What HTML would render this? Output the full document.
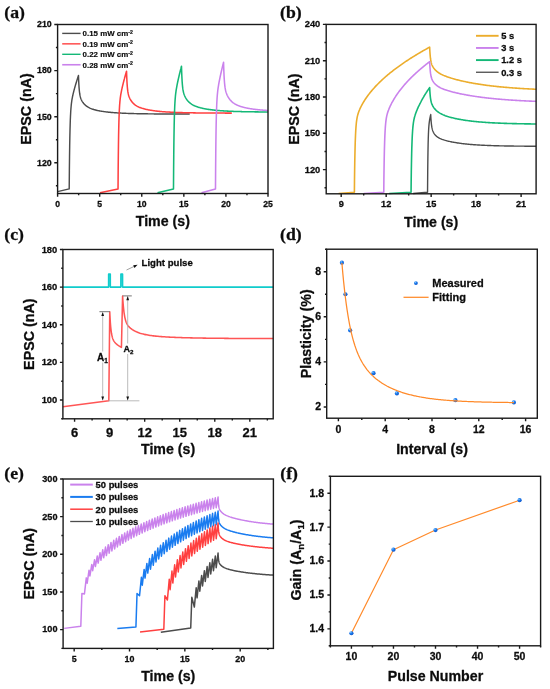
<!DOCTYPE html>
<html lang="en">
<head>
<meta charset="utf-8">
<title>EPSC figure</title>
<style>
html,body{margin:0;padding:0;background:#fff;}
body{width:550px;height:689px;overflow:hidden;}
svg{display:block;}
text{stroke:#0c0c0c;stroke-width:.28px;stroke-linejoin:round;}
text.sm{stroke-width:.16px;}
</style>
</head>
<body>
<svg width="550" height="689" viewBox="0 0 550 689" font-family='"Liberation Sans", Arial, sans-serif' font-weight="bold" fill="#0c0c0c">
<polyline points="57.6,191.66 69.21,188.89 69.37,170.79 69.53,157.05 69.68,146.17 69.84,137.49 70,130.51 70.16,124.87 70.31,120.28 70.47,116.51 70.63,113.39 70.78,110.78 70.94,108.58 71.1,106.69 71.25,105.06 71.41,103.63 71.57,102.37 71.72,101.23 71.88,100.19 72.04,99.24 72.2,98.35 72.35,97.52 72.51,96.73 72.67,95.98 72.82,95.26 72.98,94.56 73.14,93.89 73.29,93.23 73.45,92.59 73.61,91.96 73.76,91.34 73.92,90.74 74.08,90.14 74.24,89.55 74.39,88.97 74.55,88.4 74.71,87.83 74.86,87.27 75.02,86.71 75.18,86.16 75.33,85.62 75.49,85.07 75.65,84.54 75.8,84.01 75.96,83.48 76.12,82.96 76.27,82.44 76.43,81.92 76.59,81.41 76.75,80.9 76.9,80.39 77.06,79.89 77.22,79.39 77.37,78.9 77.53,78.4 77.69,77.91 77.84,77.43 78,76.94 78.16,76.46 78.31,75.98 78.47,75.51 78.58,78.39 78.68,80.9 78.79,83.08 78.9,84.98 79,86.64 79.11,88.1 79.22,89.39 79.32,90.52 79.43,91.53 79.54,92.42 79.64,93.22 79.75,93.94 79.86,94.58 79.96,95.17 80.07,95.7 80.18,96.18 80.28,96.63 80.39,97.04 80.5,97.42 80.6,97.77 80.71,98.1 80.82,98.41 80.92,98.71 81.03,98.98 81.13,99.25 81.24,99.5 81.35,99.73 81.45,99.96 81.56,100.18 81.67,100.39 81.77,100.6 81.88,100.79 81.99,100.99 82.09,101.17 82.2,101.35 82.31,101.52 82.41,101.69 82.52,101.86 82.63,102.02 82.73,102.18 82.84,102.33 82.95,102.48 83.05,102.63 83.16,102.77 83.27,102.91 83.37,103.05 83.48,103.18 83.59,103.32 83.69,103.44 83.8,103.57 83.9,103.69 84.01,103.82 84.12,103.94 84.22,104.05 84.33,104.17 84.44,104.28 84.54,104.39 84.65,104.5 84.76,104.61 84.86,104.71 84.97,104.81 85.08,104.91 85.18,105.01 85.29,105.11 85.4,105.21 85.5,105.3 85.61,105.39 85.72,105.48 85.82,105.57 85.93,105.66 86.04,105.75 86.14,105.83 86.25,105.91 86.36,106 86.46,106.08 86.57,106.15 86.67,106.23 86.78,106.31 86.89,106.38 87.75,106.95 88.62,107.46 89.48,107.9 90.34,108.3 91.21,108.66 92.07,108.99 92.94,109.28 93.8,109.55 94.67,109.8 95.53,110.03 96.39,110.24 97.26,110.44 98.12,110.63 98.99,110.8 99.85,110.96 100.72,111.11 101.58,111.25 102.44,111.39 103.31,111.52 104.17,111.64 105.04,111.75 105.9,111.86 106.76,111.96 107.63,112.06 108.49,112.16 109.36,112.24 110.22,112.33 111.09,112.41 111.95,112.49 112.81,112.56 113.68,112.63 114.54,112.69 115.41,112.76 116.27,112.82 117.14,112.87 118,112.93 118.86,112.98 119.73,113.03 120.59,113.08 121.46,113.12 122.32,113.17 123.19,113.21 124.05,113.25 124.91,113.29 125.78,113.32 126.64,113.36 127.51,113.39 128.37,113.42 129.24,113.45 130.1,113.48 130.96,113.5 131.83,113.53 132.69,113.55 133.56,113.58 134.42,113.6 135.28,113.62 136.15,113.64 137.01,113.66 137.88,113.68 138.74,113.7 139.61,113.72 140.47,113.73 141.33,113.75 142.2,113.76 143.06,113.78 143.93,113.79 144.79,113.8 145.66,113.81 146.52,113.83 147.38,113.84 148.25,113.85 149.11,113.86 149.98,113.87 150.84,113.88 151.71,113.89 152.57,113.89 153.43,113.9 154.3,113.91 155.16,113.92 156.03,113.92 156.89,113.93 157.75,113.94 158.62,113.94 159.48,113.95 160.35,113.95 161.21,113.96 162.08,113.96 162.94,113.97 163.8,113.97 164.67,113.98 165.53,113.98 166.4,113.99 167.26,113.99 168.13,113.99 168.99,114 169.85,114 170.72,114 171.58,114.01 172.45,114.01 173.31,114.01 174.18,114.02 175.04,114.02 175.9,114.02 176.77,114.02 177.63,114.02 178.5,114.03 179.36,114.03 180.22,114.03 181.09,114.03 181.95,114.03 182.82,114.04 183.68,114.04 184.55,114.04 185.41,114.04 186.27,114.04 187.14,114.04 188,114.04 188.87,114.05 189.73,114.05" fill="none" stroke="#4c4c4c" stroke-width="1.45" stroke-linejoin="round" />
<polyline points="100.02,192.73 118.03,188.89 118.17,170.05 118.32,155.75 118.46,144.43 118.6,135.39 118.75,128.13 118.89,122.26 119.04,117.48 119.18,113.56 119.32,110.32 119.47,107.61 119.61,105.32 119.76,103.37 119.9,101.68 120.04,100.2 120.19,98.89 120.33,97.71 120.48,96.64 120.62,95.66 120.76,94.74 120.91,93.88 121.05,93.07 121.2,92.29 121.34,91.55 121.48,90.83 121.63,90.14 121.77,89.46 121.92,88.8 122.06,88.15 122.2,87.52 122.35,86.89 122.49,86.28 122.64,85.67 122.78,85.07 122.93,84.48 123.07,83.9 123.21,83.32 123.36,82.74 123.5,82.18 123.65,81.62 123.79,81.06 123.93,80.51 124.08,79.96 124.22,79.41 124.37,78.88 124.51,78.34 124.65,77.81 124.8,77.28 124.94,76.76 125.09,76.24 125.23,75.72 125.37,75.21 125.52,74.7 125.66,74.19 125.81,73.68 125.95,73.18 126.09,72.68 126.24,72.19 126.38,71.7 126.53,71.21 126.63,74.34 126.74,77.07 126.85,79.44 126.95,81.51 127.06,83.32 127.17,84.9 127.27,86.3 127.38,87.54 127.49,88.63 127.59,89.6 127.7,90.47 127.81,91.25 127.91,91.95 128.02,92.59 128.13,93.16 128.23,93.69 128.34,94.18 128.44,94.62 128.55,95.04 128.66,95.42 128.76,95.78 128.87,96.12 128.98,96.44 129.08,96.74 129.19,97.02 129.3,97.3 129.4,97.56 129.51,97.8 129.62,98.04 129.72,98.27 129.83,98.5 129.94,98.71 130.04,98.92 130.15,99.12 130.26,99.31 130.36,99.5 130.47,99.69 130.58,99.87 130.68,100.04 130.79,100.21 130.89,100.38 131,100.54 131.11,100.7 131.21,100.86 131.32,101.01 131.43,101.16 131.53,101.31 131.64,101.45 131.75,101.59 131.85,101.73 131.96,101.86 132.07,102 132.17,102.13 132.28,102.25 132.39,102.38 132.49,102.5 132.6,102.62 132.71,102.74 132.81,102.85 132.92,102.97 133.03,103.08 133.13,103.19 133.24,103.3 133.35,103.4 133.45,103.51 133.56,103.61 133.66,103.71 133.77,103.81 133.88,103.9 133.98,104 134.09,104.09 134.2,104.19 134.3,104.28 134.41,104.37 134.52,104.45 134.62,104.54 134.73,104.62 134.84,104.71 134.94,104.79 135.76,105.38 136.57,105.9 137.39,106.36 138.2,106.78 139.01,107.16 139.83,107.5 140.64,107.82 141.46,108.1 142.27,108.37 143.08,108.61 143.9,108.84 144.71,109.05 145.53,109.25 146.34,109.44 147.15,109.61 147.97,109.78 148.78,109.93 149.6,110.08 150.41,110.22 151.22,110.35 152.04,110.48 152.85,110.59 153.67,110.71 154.48,110.81 155.29,110.92 156.11,111.02 156.92,111.11 157.74,111.2 158.55,111.28 159.36,111.36 160.18,111.44 160.99,111.51 161.81,111.59 162.62,111.65 163.43,111.72 164.25,111.78 165.06,111.84 165.88,111.9 166.69,111.95 167.5,112 168.32,112.05 169.13,112.1 169.95,112.14 170.76,112.19 171.57,112.23 172.39,112.27 173.2,112.31 174.02,112.34 174.83,112.38 175.64,112.41 176.46,112.44 177.27,112.47 178.09,112.5 178.9,112.53 179.71,112.56 180.53,112.58 181.34,112.61 182.16,112.63 182.97,112.65 183.78,112.67 184.6,112.69 185.41,112.71 186.23,112.73 187.04,112.75 187.85,112.77 188.67,112.78 189.48,112.8 190.3,112.81 191.11,112.83 191.92,112.84 192.74,112.85 193.55,112.87 194.37,112.88 195.18,112.89 195.99,112.9 196.81,112.91 197.62,112.92 198.44,112.93 199.25,112.94 200.06,112.95 200.88,112.96 201.69,112.97 202.51,112.98 203.32,112.98 204.13,112.99 204.95,113 205.76,113 206.58,113.01 207.39,113.02 208.2,113.02 209.02,113.03 209.83,113.03 210.65,113.04 211.46,113.04 212.27,113.05 213.09,113.05 213.9,113.05 214.72,113.06 215.53,113.06 216.34,113.07 217.16,113.07 217.97,113.07 218.79,113.08 219.6,113.08 220.41,113.08 221.23,113.09 222.04,113.09 222.86,113.09 223.67,113.09 224.49,113.1 225.3,113.1 226.11,113.1 226.93,113.1 227.74,113.1 228.56,113.11 229.37,113.11 230.18,113.11 231,113.11 231.81,113.11" fill="none" stroke="#ff4040" stroke-width="1.55" stroke-linejoin="round" />
<polyline points="157.5,192.73 173.49,188.89 173.62,169.28 173.76,154.38 173.89,142.6 174.03,133.19 174.17,125.63 174.3,119.51 174.44,114.54 174.57,110.46 174.71,107.08 174.84,104.26 174.98,101.88 175.11,99.84 175.25,98.08 175.39,96.54 175.52,95.17 175.66,93.95 175.79,92.83 175.93,91.8 176.06,90.85 176.2,89.95 176.33,89.1 176.47,88.29 176.61,87.52 176.74,86.77 176.88,86.04 177.01,85.34 177.15,84.65 177.28,83.97 177.42,83.31 177.55,82.66 177.69,82.01 177.82,81.38 177.96,80.76 178.1,80.14 178.23,79.53 178.37,78.93 178.5,78.33 178.64,77.74 178.77,77.15 178.91,76.57 179.04,75.99 179.18,75.42 179.32,74.86 179.45,74.29 179.59,73.73 179.72,73.18 179.86,72.63 179.99,72.08 180.13,71.54 180.26,71 180.4,70.46 180.53,69.93 180.67,69.4 180.81,68.88 180.94,68.35 181.08,67.83 181.21,67.31 181.35,66.8 181.48,66.29 181.59,69.71 181.7,72.69 181.8,75.28 181.91,77.53 182.02,79.51 182.12,81.24 182.23,82.77 182.34,84.11 182.44,85.31 182.55,86.37 182.66,87.32 182.76,88.17 182.87,88.93 182.97,89.63 183.08,90.26 183.19,90.83 183.29,91.36 183.4,91.85 183.51,92.3 183.61,92.72 183.72,93.12 183.83,93.48 183.93,93.83 184.04,94.16 184.15,94.47 184.25,94.77 184.36,95.05 184.47,95.32 184.57,95.58 184.68,95.84 184.79,96.08 184.89,96.31 185,96.54 185.11,96.76 185.21,96.97 185.32,97.18 185.43,97.38 185.53,97.58 185.64,97.77 185.74,97.95 185.85,98.14 185.96,98.31 186.06,98.49 186.17,98.66 186.28,98.83 186.38,98.99 186.49,99.15 186.6,99.3 186.7,99.46 186.81,99.61 186.92,99.75 187.02,99.9 187.13,100.04 187.24,100.18 187.34,100.32 187.45,100.45 187.56,100.58 187.66,100.71 187.77,100.84 187.88,100.96 187.98,101.08 188.09,101.2 188.2,101.32 188.3,101.43 188.41,101.55 188.51,101.66 188.62,101.77 188.73,101.88 188.83,101.98 188.94,102.09 189.05,102.19 189.15,102.29 189.26,102.39 189.37,102.49 189.47,102.58 189.58,102.68 189.69,102.77 189.79,102.86 189.9,102.95 190.56,103.47 191.21,103.94 191.87,104.38 192.52,104.77 193.18,105.14 193.84,105.47 194.49,105.78 195.15,106.07 195.81,106.34 196.46,106.59 197.12,106.82 197.78,107.04 198.43,107.25 199.09,107.44 199.74,107.62 200.4,107.8 201.06,107.96 201.71,108.12 202.37,108.27 203.03,108.41 203.68,108.55 204.34,108.68 204.99,108.81 205.65,108.93 206.31,109.04 206.96,109.15 207.62,109.26 208.28,109.36 208.93,109.45 209.59,109.55 210.25,109.64 210.9,109.72 211.56,109.81 212.21,109.89 212.87,109.96 213.53,110.04 214.18,110.11 214.84,110.18 215.5,110.25 216.15,110.31 216.81,110.37 217.46,110.43 218.12,110.49 218.78,110.54 219.43,110.6 220.09,110.65 220.75,110.7 221.4,110.75 222.06,110.79 222.71,110.84 223.37,110.88 224.03,110.92 224.68,110.96 225.34,111 226,111.04 226.65,111.07 227.31,111.11 227.97,111.14 228.62,111.18 229.28,111.21 229.93,111.24 230.59,111.27 231.25,111.29 231.9,111.32 232.56,111.35 233.22,111.37 233.87,111.4 234.53,111.42 235.18,111.44 235.84,111.47 236.5,111.49 237.15,111.51 237.81,111.53 238.47,111.55 239.12,111.56 239.78,111.58 240.44,111.6 241.09,111.62 241.75,111.63 242.4,111.65 243.06,111.66 243.72,111.68 244.37,111.69 245.03,111.7 245.69,111.72 246.34,111.73 247,111.74 247.65,111.75 248.31,111.76 248.97,111.77 249.62,111.78 250.28,111.79 250.94,111.8 251.59,111.81 252.25,111.82 252.9,111.83 253.56,111.84 254.22,111.85 254.87,111.86 255.53,111.86 256.19,111.87 256.84,111.88 257.5,111.88 258.16,111.89 258.81,111.9 259.47,111.9 260.12,111.91 260.78,111.91 261.44,111.92 262.09,111.93 262.75,111.93 263.41,111.94 264.06,111.94 264.72,111.95 265.37,111.95 266.03,111.95 266.69,111.96 267.34,111.96 268,111.97" fill="none" stroke="#14b877" stroke-width="1.55" stroke-linejoin="round" />
<polyline points="201.51,192.73 215.48,188.89 215.62,168.79 215.76,153.55 215.89,141.48 216.03,131.84 216.17,124.09 216.31,117.82 216.44,112.71 216.58,108.51 216.72,105.03 216.85,102.13 216.99,99.66 217.13,97.56 217.26,95.73 217.4,94.13 217.54,92.71 217.68,91.43 217.81,90.26 217.95,89.19 218.09,88.19 218.22,87.25 218.36,86.36 218.5,85.51 218.63,84.69 218.77,83.9 218.91,83.14 219.04,82.39 219.18,81.67 219.32,80.96 219.46,80.26 219.59,79.57 219.73,78.89 219.87,78.22 220,77.57 220.14,76.91 220.28,76.27 220.41,75.63 220.55,75 220.69,74.38 220.82,73.76 220.96,73.15 221.1,72.54 221.24,71.94 221.37,71.34 221.51,70.74 221.65,70.15 221.78,69.57 221.92,68.99 222.06,68.41 222.19,67.84 222.33,67.27 222.47,66.7 222.6,66.14 222.74,65.58 222.88,65.02 223.02,64.47 223.15,63.92 223.29,63.38 223.43,62.83 223.56,62.29 223.67,65.98 223.78,69.19 223.88,71.97 223.99,74.41 224.1,76.54 224.2,78.4 224.31,80.05 224.42,81.5 224.52,82.78 224.63,83.93 224.74,84.95 224.84,85.86 224.95,86.69 225.05,87.43 225.16,88.11 225.27,88.73 225.37,89.3 225.48,89.83 225.59,90.32 225.69,90.77 225.8,91.19 225.91,91.59 226.01,91.96 226.12,92.32 226.23,92.65 226.33,92.97 226.44,93.28 226.55,93.57 226.65,93.85 226.76,94.12 226.87,94.38 226.97,94.63 227.08,94.88 227.19,95.11 227.29,95.34 227.4,95.57 227.51,95.78 227.61,96 227.72,96.2 227.82,96.4 227.93,96.6 228.04,96.79 228.14,96.98 228.25,97.16 228.36,97.34 228.46,97.52 228.57,97.69 228.68,97.86 228.78,98.02 228.89,98.18 229,98.34 229.1,98.5 229.21,98.65 229.32,98.8 229.42,98.95 229.53,99.09 229.64,99.23 229.74,99.37 229.85,99.51 229.96,99.64 230.06,99.77 230.17,99.9 230.28,100.03 230.38,100.15 230.49,100.27 230.59,100.39 230.7,100.51 230.81,100.63 230.91,100.74 231.02,100.85 231.13,100.97 231.23,101.07 231.34,101.18 231.45,101.28 231.55,101.39 231.66,101.49 231.77,101.59 231.87,101.69 231.98,101.78 232.28,102.05 232.58,102.3 232.89,102.55 233.19,102.78 233.49,103 233.8,103.22 234.1,103.42 234.4,103.62 234.7,103.81 235.01,103.99 235.31,104.17 235.61,104.34 235.91,104.5 236.22,104.66 236.52,104.81 236.82,104.95 237.13,105.1 237.43,105.23 237.73,105.37 238.03,105.49 238.34,105.62 238.64,105.74 238.94,105.86 239.24,105.97 239.55,106.08 239.85,106.19 240.15,106.29 240.45,106.39 240.76,106.49 241.06,106.59 241.36,106.68 241.67,106.77 241.97,106.86 242.27,106.95 242.57,107.03 242.88,107.12 243.18,107.2 243.48,107.28 243.78,107.35 244.09,107.43 244.39,107.5 244.69,107.58 245,107.65 245.3,107.72 245.6,107.78 245.9,107.85 246.21,107.91 246.51,107.98 246.81,108.04 247.11,108.1 247.42,108.16 247.72,108.22 248.02,108.28 248.32,108.33 248.63,108.39 248.93,108.44 249.23,108.5 249.54,108.55 249.84,108.6 250.14,108.65 250.44,108.7 250.75,108.75 251.05,108.8 251.35,108.84 251.65,108.89 251.96,108.93 252.26,108.98 252.56,109.02 252.87,109.06 253.17,109.11 253.47,109.15 253.77,109.19 254.08,109.23 254.38,109.27 254.68,109.31 254.98,109.34 255.29,109.38 255.59,109.42 255.89,109.45 256.19,109.49 256.5,109.52 256.8,109.56 257.1,109.59 257.41,109.62 257.71,109.66 258.01,109.69 258.31,109.72 258.62,109.75 258.92,109.78 259.22,109.81 259.52,109.84 259.83,109.87 260.13,109.9 260.43,109.93 260.74,109.95 261.04,109.98 261.34,110.01 261.64,110.03 261.95,110.06 262.25,110.08 262.55,110.11 262.85,110.13 263.16,110.16 263.46,110.18 263.76,110.2 264.06,110.23 264.37,110.25 264.67,110.27 264.97,110.29 265.28,110.32 265.58,110.34 265.88,110.36 266.18,110.38 266.49,110.4 266.79,110.42 267.09,110.44 267.39,110.46 267.7,110.47 268,110.49" fill="none" stroke="#ca82ec" stroke-width="1.55" stroke-linejoin="round" />
<path d="M57.6 193.5v3.3M99.68 193.5v3.3M141.76 193.5v3.3M183.84 193.5v3.3M225.92 193.5v3.3M268 193.5v3.3M78.64 193.5v1.7M120.72 193.5v1.7M162.8 193.5v1.7M204.88 193.5v1.7M246.96 193.5v1.7M57.6 162.77h-3.3M57.6 116.68h-3.3M57.6 70.59h-3.3M57.6 24.5h-3.3M57.6 185.82h-1.7M57.6 139.73h-1.7M57.6 93.64h-1.7M57.6 47.55h-1.7" stroke="#1a1a1a" stroke-width="1.4" fill="none"/>
<rect x="57.6" y="24.5" width="210.4" height="169" fill="none" stroke="#1a1a1a" stroke-width="1.4"/>
<text x="57.6" y="206.9" font-size="8.6" text-anchor="middle">0</text>
<text x="99.68" y="206.9" font-size="8.6" text-anchor="middle">5</text>
<text x="141.76" y="206.9" font-size="8.6" text-anchor="middle">10</text>
<text x="183.84" y="206.9" font-size="8.6" text-anchor="middle">15</text>
<text x="225.92" y="206.9" font-size="8.6" text-anchor="middle">20</text>
<text x="268" y="206.9" font-size="8.6" text-anchor="middle">25</text>
<text x="51.7" y="165.59" font-size="8.8" text-anchor="end">120</text>
<text x="51.7" y="119.5" font-size="8.8" text-anchor="end">150</text>
<text x="51.7" y="73.41" font-size="8.8" text-anchor="end">180</text>
<text x="51.7" y="27.32" font-size="8.8" text-anchor="end">210</text>
<text x="162.8" y="226.3" font-size="14.2" text-anchor="middle">Time (s)</text>
<text transform="translate(31.2 109) rotate(-90)" font-size="14.3" text-anchor="middle">EPSC (nA)</text>
<line x1="62.2" y1="33.4" x2="80.6" y2="33.4" stroke="#4c4c4c" stroke-width="1.4"/>
<text x="82.6" y="36.2" font-size="7.9" text-anchor="start" class="sm">0.15 mW cm<tspan font-size="5.2" dy="-2.6">-2</tspan></text>
<line x1="62.2" y1="43.85" x2="80.6" y2="43.85" stroke="#ff4040" stroke-width="1.4"/>
<text x="82.6" y="46.65" font-size="7.9" text-anchor="start" class="sm">0.19 mW cm<tspan font-size="5.2" dy="-2.6">-2</tspan></text>
<line x1="62.2" y1="54.3" x2="80.6" y2="54.3" stroke="#14b877" stroke-width="1.4"/>
<text x="82.6" y="57.1" font-size="7.9" text-anchor="start" class="sm">0.22 mW cm<tspan font-size="5.2" dy="-2.6">-2</tspan></text>
<line x1="62.2" y1="64.75" x2="80.6" y2="64.75" stroke="#ca82ec" stroke-width="1.6"/>
<text x="82.6" y="67.55" font-size="7.9" text-anchor="start" class="sm">0.28 mW cm<tspan font-size="5.2" dy="-2.6">-2</tspan></text>
<text x="4.3" y="18.3" font-size="17.7" font-family='"Liberation Serif", "Times New Roman", serif'>(a)</text>
<polyline points="338.64,193.44 354.39,192.23 354.51,179.26 354.63,170.23 354.75,162.72 354.88,156.35 355,150.92 355.12,146.27 355.24,142.26 355.37,138.79 355.49,135.79 355.61,133.18 355.73,130.91 355.86,128.91 355.98,127.16 356.1,125.61 356.22,124.24 356.34,123.02 356.47,121.93 356.59,120.95 356.71,120.06 356.83,119.25 356.96,118.52 357.08,117.84 357.2,117.21 357.32,116.63 357.45,116.09 357.57,115.59 357.69,115.11 357.81,114.66 357.94,114.23 358.06,113.81 358.18,113.42 358.3,113.04 358.43,112.68 358.55,112.33 358.67,111.99 358.79,111.66 358.92,111.33 359.04,111.02 359.16,110.71 359.28,110.41 359.4,110.11 359.53,109.83 359.65,109.54 359.77,109.26 359.89,108.99 360.02,108.72 360.14,108.45 360.26,108.18 360.38,107.92 361.08,106.5 361.78,105.15 362.48,103.88 363.18,102.66 363.88,101.49 364.58,100.37 365.28,99.29 365.98,98.24 366.68,97.23 367.38,96.25 368.08,95.29 368.78,94.36 369.48,93.46 370.18,92.57 370.88,91.71 371.58,90.87 372.28,90.04 372.98,89.23 373.68,88.44 374.38,87.66 375.08,86.9 375.78,86.15 376.48,85.41 377.18,84.68 377.88,83.97 378.58,83.27 379.27,82.58 379.97,81.9 380.67,81.22 381.37,80.56 382.07,79.91 382.77,79.27 383.47,78.63 384.17,78 384.87,77.38 385.57,76.77 386.27,76.16 386.97,75.57 387.67,74.97 388.37,74.39 389.07,73.81 389.77,73.24 390.47,72.67 391.17,72.11 391.87,71.56 392.57,71.01 393.27,70.46 393.97,69.92 394.67,69.39 395.37,68.86 396.07,68.34 396.77,67.82 397.47,67.3 398.17,66.79 398.87,66.28 399.57,65.78 400.26,65.28 400.96,64.79 401.66,64.3 402.36,63.81 403.06,63.33 403.76,62.85 404.46,62.37 405.16,61.9 405.86,61.43 406.56,60.97 407.26,60.51 407.96,60.05 408.66,59.59 409.36,59.14 410.06,58.69 410.76,58.24 411.46,57.8 412.16,57.36 412.86,56.92 413.56,56.49 414.26,56.06 414.96,55.63 415.66,55.2 416.36,54.77 417.06,54.35 417.76,53.93 418.46,53.52 419.16,53.1 419.86,52.69 420.56,52.28 421.25,51.87 421.95,51.47 422.65,51.06 423.35,50.66 424.05,50.26 424.75,49.87 425.45,49.47 426.15,49.08 426.85,48.69 427.55,48.3 428.25,47.92 428.95,47.53 429.65,47.15 429.76,49.45 429.88,51.44 429.99,53.16 430.11,54.65 430.22,55.96 430.33,57.1 430.45,58.1 430.56,58.99 430.68,59.77 430.79,60.47 430.9,61.1 431.02,61.67 431.13,62.18 431.24,62.64 431.36,63.07 431.47,63.46 431.59,63.82 431.7,64.16 431.81,64.47 431.93,64.77 432.04,65.04 432.16,65.31 432.27,65.56 432.38,65.8 432.5,66.02 432.61,66.24 432.73,66.45 432.84,66.66 432.95,66.85 433.07,67.04 433.18,67.23 433.29,67.4 433.41,67.58 433.52,67.75 433.64,67.91 433.75,68.07 433.86,68.23 433.98,68.38 434.09,68.53 434.21,68.68 434.32,68.82 434.43,68.96 434.55,69.1 434.66,69.24 434.77,69.37 434.89,69.5 435,69.63 435.12,69.75 435.23,69.87 435.34,69.99 435.46,70.11 435.57,70.23 435.69,70.34 435.8,70.45 435.91,70.57 436.03,70.67 436.14,70.78 436.26,70.89 436.37,70.99 436.48,71.09 436.6,71.19 436.71,71.29 436.82,71.39 436.94,71.48 437.05,71.57 437.17,71.67 437.28,71.76 437.39,71.85 437.51,71.94 437.62,72.02 437.74,72.11 437.85,72.19 437.96,72.28 438.08,72.36 438.19,72.44 438.3,72.52 438.42,72.6 438.53,72.68 438.65,72.76 439.47,73.28 440.28,73.76 441.1,74.21 441.92,74.62 442.74,75.01 443.56,75.38 444.38,75.72 445.2,76.05 446.02,76.36 446.84,76.67 447.65,76.96 448.47,77.24 449.29,77.51 450.11,77.77 450.93,78.03 451.75,78.27 452.57,78.52 453.39,78.75 454.21,78.98 455.03,79.21 455.84,79.43 456.66,79.65 457.48,79.86 458.3,80.07 459.12,80.27 459.94,80.47 460.76,80.66 461.58,80.86 462.4,81.04 463.21,81.23 464.03,81.41 464.85,81.59 465.67,81.76 466.49,81.93 467.31,82.1 468.13,82.27 468.95,82.43 469.77,82.59 470.58,82.74 471.4,82.9 472.22,83.05 473.04,83.19 473.86,83.34 474.68,83.48 475.5,83.62 476.32,83.76 477.14,83.89 477.96,84.03 478.77,84.16 479.59,84.28 480.41,84.41 481.23,84.53 482.05,84.65 482.87,84.77 483.69,84.89 484.51,85 485.33,85.12 486.14,85.23 486.96,85.34 487.78,85.44 488.6,85.55 489.42,85.65 490.24,85.75 491.06,85.85 491.88,85.95 492.7,86.04 493.52,86.13 494.33,86.23 495.15,86.32 495.97,86.41 496.79,86.49 497.61,86.58 498.43,86.66 499.25,86.75 500.07,86.83 500.89,86.91 501.7,86.98 502.52,87.06 503.34,87.14 504.16,87.21 504.98,87.28 505.8,87.35 506.62,87.42 507.44,87.49 508.26,87.56 509.08,87.63 509.89,87.69 510.71,87.76 511.53,87.82 512.35,87.88 513.17,87.94 513.99,88 514.81,88.06 515.63,88.12 516.45,88.17 517.26,88.23 518.08,88.28 518.9,88.33 519.72,88.39 520.54,88.44 521.36,88.49 522.18,88.54 523,88.59 523.82,88.63 524.63,88.68 525.45,88.73 526.27,88.77 527.09,88.82 527.91,88.86 528.73,88.9 529.55,88.95 530.37,88.99 531.19,89.03 532.01,89.07 532.82,89.11 533.64,89.14 534.46,89.18 535.28,89.22 536.1,89.26" fill="none" stroke="#ecad2c" stroke-width="1.6" stroke-linejoin="round" />
<polyline points="363.68,193.44 383.77,192.23 383.89,179.3 384.02,170.24 384.14,162.7 384.26,156.31 384.38,150.85 384.51,146.17 384.63,142.14 384.75,138.65 384.87,135.63 385,133 385.12,130.7 385.24,128.68 385.36,126.91 385.49,125.35 385.61,123.96 385.73,122.72 385.85,121.6 385.98,120.6 386.1,119.7 386.22,118.87 386.34,118.12 386.47,117.42 386.59,116.78 386.71,116.18 386.83,115.63 386.95,115.1 387.08,114.61 387.2,114.14 387.32,113.69 387.44,113.27 387.57,112.86 387.69,112.46 387.81,112.08 387.93,111.72 388.06,111.36 388.18,111.01 388.3,110.68 388.42,110.35 388.55,110.03 388.67,109.71 388.79,109.4 388.91,109.1 389.04,108.8 389.16,108.51 389.28,108.22 389.4,107.93 389.52,107.65 389.65,107.37 389.77,107.1 390.17,106.22 390.58,105.38 390.98,104.56 391.38,103.76 391.78,102.99 392.19,102.24 392.59,101.51 392.99,100.79 393.4,100.09 393.8,99.41 394.2,98.74 394.6,98.08 395.01,97.44 395.41,96.8 395.81,96.18 396.22,95.57 396.62,94.97 397.02,94.38 397.42,93.8 397.83,93.23 398.23,92.66 398.63,92.11 399.03,91.56 399.44,91.02 399.84,90.49 400.24,89.96 400.65,89.44 401.05,88.93 401.45,88.42 401.85,87.92 402.26,87.42 402.66,86.93 403.06,86.45 403.47,85.97 403.87,85.5 404.27,85.03 404.67,84.56 405.08,84.1 405.48,83.65 405.88,83.2 406.29,82.75 406.69,82.31 407.09,81.87 407.49,81.44 407.9,81.01 408.3,80.58 408.7,80.15 409.11,79.73 409.51,79.32 409.91,78.91 410.31,78.5 410.72,78.09 411.12,77.69 411.52,77.29 411.93,76.89 412.33,76.49 412.73,76.1 413.13,75.71 413.54,75.33 413.94,74.95 414.34,74.56 414.75,74.19 415.15,73.81 415.55,73.44 415.95,73.07 416.36,72.7 416.76,72.33 417.16,71.97 417.57,71.61 417.97,71.25 418.37,70.89 418.77,70.54 419.18,70.19 419.58,69.84 419.98,69.49 420.39,69.14 420.79,68.8 421.19,68.46 421.59,68.12 422,67.78 422.4,67.44 422.8,67.11 423.21,66.77 423.61,66.44 424.01,66.11 424.41,65.78 424.82,65.46 425.22,65.13 425.62,64.81 426.03,64.49 426.43,64.17 426.83,63.85 427.23,63.54 427.64,63.22 428.04,62.91 428.44,62.6 428.85,62.28 429.25,61.98 429.65,61.67 429.76,63.96 429.88,65.94 429.99,67.66 430.11,69.15 430.22,70.45 430.33,71.58 430.45,72.58 430.56,73.46 430.68,74.23 430.79,74.93 430.9,75.55 431.02,76.11 431.13,76.61 431.24,77.07 431.36,77.49 431.47,77.87 431.59,78.23 431.7,78.56 431.81,78.87 431.93,79.15 432.04,79.43 432.16,79.68 432.27,79.93 432.38,80.16 432.5,80.38 432.61,80.59 432.73,80.8 432.84,80.99 432.95,81.18 433.07,81.37 433.18,81.54 433.29,81.72 433.41,81.88 433.52,82.05 433.64,82.21 433.75,82.36 433.86,82.51 433.98,82.66 434.09,82.8 434.21,82.94 434.32,83.08 434.43,83.21 434.55,83.35 434.66,83.47 434.77,83.6 434.89,83.72 435,83.85 435.12,83.97 435.23,84.08 435.34,84.2 435.46,84.31 435.57,84.42 435.69,84.53 435.8,84.63 435.91,84.74 436.03,84.84 436.14,84.94 436.26,85.04 436.37,85.14 436.48,85.23 436.6,85.33 436.71,85.42 436.82,85.51 436.94,85.6 437.05,85.69 437.17,85.78 437.28,85.86 437.39,85.95 437.51,86.03 437.62,86.11 437.74,86.19 437.85,86.27 437.96,86.35 438.08,86.42 438.19,86.5 438.3,86.57 438.42,86.65 438.53,86.72 438.65,86.79 439.47,87.28 440.28,87.72 441.1,88.13 441.92,88.5 442.74,88.86 443.56,89.19 444.38,89.5 445.2,89.79 446.02,90.07 446.84,90.34 447.65,90.6 448.47,90.84 449.29,91.08 450.11,91.31 450.93,91.54 451.75,91.76 452.57,91.97 453.39,92.18 454.21,92.38 455.03,92.58 455.84,92.77 456.66,92.96 457.48,93.15 458.3,93.33 459.12,93.51 459.94,93.68 460.76,93.85 461.58,94.02 462.4,94.18 463.21,94.34 464.03,94.5 464.85,94.66 465.67,94.81 466.49,94.96 467.31,95.11 468.13,95.25 468.95,95.39 469.77,95.53 470.58,95.67 471.4,95.8 472.22,95.93 473.04,96.06 473.86,96.19 474.68,96.31 475.5,96.44 476.32,96.56 477.14,96.67 477.96,96.79 478.77,96.9 479.59,97.01 480.41,97.12 481.23,97.23 482.05,97.34 482.87,97.44 483.69,97.54 484.51,97.64 485.33,97.74 486.14,97.84 486.96,97.93 487.78,98.02 488.6,98.12 489.42,98.21 490.24,98.29 491.06,98.38 491.88,98.46 492.7,98.55 493.52,98.63 494.33,98.71 495.15,98.79 495.97,98.87 496.79,98.94 497.61,99.02 498.43,99.09 499.25,99.16 500.07,99.23 500.89,99.3 501.7,99.37 502.52,99.44 503.34,99.5 504.16,99.57 504.98,99.63 505.8,99.69 506.62,99.76 507.44,99.82 508.26,99.87 509.08,99.93 509.89,99.99 510.71,100.05 511.53,100.1 512.35,100.15 513.17,100.21 513.99,100.26 514.81,100.31 515.63,100.36 516.45,100.41 517.26,100.46 518.08,100.5 518.9,100.55 519.72,100.6 520.54,100.64 521.36,100.69 522.18,100.73 523,100.77 523.82,100.81 524.63,100.85 525.45,100.89 526.27,100.93 527.09,100.97 527.91,101.01 528.73,101.05 529.55,101.09 530.37,101.12 531.19,101.16 532.01,101.19 532.82,101.23 533.64,101.26 534.46,101.29 535.28,101.32 536.1,101.36" fill="none" stroke="#ca82ec" stroke-width="1.6" stroke-linejoin="round" />
<polyline points="389.17,193.44 411.06,192.23 411.18,180.68 411.3,172.04 411.43,164.78 411.55,158.61 411.67,153.33 411.79,148.79 411.92,144.88 412.04,141.49 412.16,138.54 412.28,135.98 412.41,133.73 412.53,131.76 412.65,130.03 412.77,128.49 412.9,127.12 413.02,125.9 413.14,124.8 413.26,123.81 413.38,122.91 413.51,122.09 413.63,121.33 413.75,120.64 413.87,119.99 414,119.39 414.12,118.82 414.24,118.29 414.36,117.78 414.49,117.3 414.61,116.85 414.73,116.41 414.85,115.98 414.98,115.58 415.1,115.18 415.22,114.8 415.34,114.43 415.47,114.06 415.59,113.71 415.71,113.36 415.83,113.02 415.96,112.68 416.08,112.36 416.2,112.03 416.32,111.71 416.44,111.4 416.57,111.09 416.69,110.79 416.81,110.48 416.93,110.19 417.06,109.89 417.18,109.59 417.31,109.29 417.44,108.99 417.57,108.7 417.69,108.41 417.82,108.12 417.95,107.83 418.07,107.55 418.2,107.27 418.33,106.99 418.46,106.72 418.58,106.44 418.71,106.17 418.84,105.9 418.96,105.63 419.09,105.37 419.22,105.1 419.35,104.84 419.47,104.58 419.6,104.32 419.73,104.07 419.86,103.81 419.98,103.56 420.11,103.31 420.24,103.06 420.36,102.81 420.49,102.56 420.62,102.32 420.75,102.07 420.87,101.83 421,101.59 421.13,101.35 421.25,101.11 421.38,100.88 421.51,100.64 421.64,100.41 421.76,100.17 421.89,99.94 422.02,99.71 422.15,99.48 422.27,99.25 422.4,99.03 422.53,98.8 422.65,98.58 422.78,98.35 422.91,98.13 423.04,97.91 423.16,97.69 423.29,97.47 423.42,97.25 423.54,97.03 423.67,96.82 423.8,96.6 423.93,96.39 424.05,96.17 424.18,95.96 424.31,95.75 424.44,95.54 424.56,95.33 424.69,95.12 424.82,94.91 424.94,94.71 425.07,94.5 425.2,94.29 425.33,94.09 425.45,93.89 425.58,93.68 425.71,93.48 425.83,93.28 425.96,93.08 426.09,92.88 426.22,92.68 426.34,92.48 426.47,92.28 426.6,92.09 426.72,91.89 426.85,91.7 426.98,91.5 427.11,91.31 427.23,91.11 427.36,90.92 427.49,90.73 427.62,90.54 427.74,90.35 427.87,90.16 428,89.97 428.12,89.78 428.25,89.59 428.38,89.4 428.51,89.22 428.63,89.03 428.76,88.84 428.89,88.66 429.01,88.48 429.14,88.29 429.27,88.11 429.4,87.93 429.52,87.74 429.65,87.56 429.76,89.69 429.88,91.52 429.99,93.12 430.11,94.51 430.22,95.73 430.33,96.8 430.45,97.74 430.56,98.58 430.68,99.32 430.79,99.99 430.9,100.59 431.02,101.13 431.13,101.63 431.24,102.08 431.36,102.5 431.47,102.88 431.59,103.24 431.7,103.57 431.81,103.88 431.93,104.18 432.04,104.46 432.16,104.72 432.27,104.97 432.38,105.22 432.5,105.45 432.61,105.67 432.73,105.88 432.84,106.09 432.95,106.29 433.07,106.49 433.18,106.67 433.29,106.86 433.41,107.04 433.52,107.21 433.64,107.38 433.75,107.55 433.86,107.71 433.98,107.87 434.09,108.02 434.21,108.17 434.32,108.32 434.43,108.47 434.55,108.61 434.66,108.75 434.77,108.88 434.89,109.02 435,109.15 435.12,109.28 435.23,109.41 435.34,109.53 435.46,109.65 435.57,109.77 435.69,109.89 435.8,110.01 435.91,110.12 436.03,110.23 436.14,110.34 436.26,110.45 436.37,110.56 436.48,110.66 436.6,110.76 436.71,110.86 436.82,110.96 436.94,111.06 437.05,111.16 437.17,111.25 437.28,111.35 437.39,111.44 437.51,111.53 437.62,111.62 437.74,111.71 437.85,111.79 437.96,111.88 438.08,111.96 438.19,112.05 438.3,112.13 438.42,112.21 438.53,112.29 438.65,112.37 439.47,112.9 440.28,113.39 441.1,113.83 441.92,114.24 442.74,114.63 443.56,114.98 444.38,115.31 445.2,115.63 446.02,115.92 446.84,116.2 447.65,116.47 448.47,116.72 449.29,116.97 450.11,117.2 450.93,117.42 451.75,117.64 452.57,117.84 453.39,118.04 454.21,118.23 455.03,118.42 455.84,118.6 456.66,118.77 457.48,118.94 458.3,119.1 459.12,119.25 459.94,119.4 460.76,119.55 461.58,119.69 462.4,119.83 463.21,119.96 464.03,120.09 464.85,120.22 465.67,120.34 466.49,120.46 467.31,120.57 468.13,120.68 468.95,120.79 469.77,120.89 470.58,121 471.4,121.09 472.22,121.19 473.04,121.28 473.86,121.37 474.68,121.46 475.5,121.54 476.32,121.62 477.14,121.7 477.96,121.78 478.77,121.85 479.59,121.93 480.41,122 481.23,122.06 482.05,122.13 482.87,122.19 483.69,122.26 484.51,122.32 485.33,122.37 486.14,122.43 486.96,122.49 487.78,122.54 488.6,122.59 489.42,122.64 490.24,122.69 491.06,122.74 491.88,122.78 492.7,122.83 493.52,122.87 494.33,122.91 495.15,122.95 495.97,122.99 496.79,123.03 497.61,123.07 498.43,123.1 499.25,123.14 500.07,123.17 500.89,123.21 501.7,123.24 502.52,123.27 503.34,123.3 504.16,123.33 504.98,123.36 505.8,123.38 506.62,123.41 507.44,123.44 508.26,123.46 509.08,123.49 509.89,123.51 510.71,123.53 511.53,123.55 512.35,123.58 513.17,123.6 513.99,123.62 514.81,123.64 515.63,123.65 516.45,123.67 517.26,123.69 518.08,123.71 518.9,123.73 519.72,123.74 520.54,123.76 521.36,123.77 522.18,123.79 523,123.8 523.82,123.82 524.63,123.83 525.45,123.84 526.27,123.86 527.09,123.87 527.91,123.88 528.73,123.89 529.55,123.9 530.37,123.91 531.19,123.93 532.01,123.94 532.82,123.95 533.64,123.96 534.46,123.96 535.28,123.97 536.1,123.98" fill="none" stroke="#14b877" stroke-width="1.6" stroke-linejoin="round" />
<polyline points="413.16,193.44 427.55,192.23 427.63,181.1 427.71,172.11 427.79,164.58 427.87,158.23 427.96,152.87 428.04,148.31 428.12,144.44 428.2,141.13 428.28,138.3 428.36,135.86 428.44,133.75 428.52,131.92 428.6,130.32 428.68,128.92 428.76,127.68 428.84,126.58 428.92,125.6 429,124.71 429.09,123.91 429.17,123.18 429.25,122.5 429.33,121.87 429.41,121.29 429.49,120.74 429.57,120.22 429.65,119.73 429.73,119.26 429.81,118.81 429.89,118.38 429.97,117.96 430.05,117.56 430.14,117.16 430.22,116.77 430.3,116.39 430.38,116.02 430.46,115.66 430.54,115.3 430.62,114.95 430.7,114.55 430.81,116.65 430.93,118.49 431.04,120.08 431.16,121.48 431.27,122.71 431.38,123.79 431.5,124.74 431.61,125.59 431.73,126.35 431.84,127.03 431.95,127.65 432.07,128.2 432.18,128.71 432.29,129.17 432.41,129.59 432.52,129.99 432.64,130.35 432.75,130.69 432.86,131 432.98,131.3 433.09,131.57 433.21,131.84 433.32,132.08 433.43,132.32 433.55,132.54 433.66,132.76 433.77,132.96 433.89,133.16 434,133.35 434.12,133.53 434.23,133.71 434.34,133.87 434.46,134.04 434.57,134.2 434.69,134.35 434.8,134.5 434.91,134.64 435.03,134.78 435.14,134.91 435.26,135.04 435.37,135.17 435.48,135.29 435.6,135.41 435.71,135.53 435.82,135.65 435.94,135.76 436.05,135.87 436.17,135.97 436.28,136.08 436.39,136.18 436.51,136.27 436.62,136.37 436.74,136.46 436.85,136.56 436.96,136.65 437.08,136.73 437.19,136.82 437.3,136.9 437.42,136.99 437.53,137.07 437.65,137.15 437.76,137.22 437.87,137.3 437.99,137.37 438.1,137.45 438.22,137.52 438.33,137.59 438.44,137.66 438.56,137.72 438.67,137.79 438.78,137.85 438.9,137.92 439.01,137.98 439.13,138.04 439.24,138.1 439.35,138.16 439.47,138.22 439.58,138.28 439.7,138.34 440.51,138.72 441.32,139.06 442.13,139.38 442.94,139.67 443.75,139.94 444.56,140.19 445.37,140.43 446.18,140.65 446.99,140.86 447.8,141.06 448.61,141.26 449.42,141.44 450.23,141.62 451.04,141.79 451.85,141.95 452.66,142.11 453.47,142.26 454.28,142.41 455.09,142.55 455.9,142.68 456.71,142.81 457.52,142.94 458.33,143.06 459.14,143.18 459.95,143.29 460.76,143.4 461.57,143.5 462.38,143.6 463.19,143.7 464,143.79 464.81,143.88 465.62,143.97 466.43,144.06 467.24,144.14 468.05,144.22 468.86,144.29 469.67,144.36 470.48,144.43 471.29,144.5 472.1,144.57 472.91,144.63 473.72,144.69 474.53,144.75 475.34,144.81 476.15,144.86 476.96,144.91 477.77,144.97 478.58,145.01 479.39,145.06 480.2,145.11 481.01,145.15 481.82,145.19 482.63,145.23 483.44,145.27 484.25,145.31 485.06,145.35 485.87,145.38 486.68,145.42 487.49,145.45 488.3,145.48 489.11,145.51 489.92,145.54 490.73,145.57 491.54,145.6 492.35,145.63 493.16,145.65 493.97,145.68 494.78,145.7 495.59,145.72 496.4,145.75 497.21,145.77 498.02,145.79 498.83,145.81 499.64,145.83 500.45,145.85 501.26,145.86 502.08,145.88 502.89,145.9 503.7,145.91 504.51,145.93 505.32,145.94 506.13,145.96 506.94,145.97 507.75,145.99 508.56,146 509.37,146.01 510.18,146.02 510.99,146.03 511.8,146.05 512.61,146.06 513.42,146.07 514.23,146.08 515.04,146.09 515.85,146.1 516.66,146.1 517.47,146.11 518.28,146.12 519.09,146.13 519.9,146.14 520.71,146.15 521.52,146.15 522.33,146.16 523.14,146.17 523.95,146.17 524.76,146.18 525.57,146.19 526.38,146.19 527.19,146.2 528,146.2 528.81,146.21 529.62,146.21 530.43,146.22 531.24,146.22 532.05,146.23 532.86,146.23 533.67,146.24 534.48,146.24 535.29,146.24 536.1,146.25" fill="none" stroke="#4c4c4c" stroke-width="1.4" stroke-linejoin="round" />
<path d="M341.19 193.8v3.3M386.17 193.8v3.3M431.15 193.8v3.3M476.13 193.8v3.3M521.11 193.8v3.3M363.68 193.8v1.7M408.66 193.8v1.7M453.64 193.8v1.7M498.62 193.8v1.7M326.2 169.6h-3.3M326.2 133.3h-3.3M326.2 97h-3.3M326.2 60.7h-3.3M326.2 24.4h-3.3M326.2 187.75h-1.7M326.2 151.45h-1.7M326.2 115.15h-1.7M326.2 78.85h-1.7M326.2 42.55h-1.7" stroke="#1a1a1a" stroke-width="1.4" fill="none"/>
<rect x="326.2" y="24.4" width="209.9" height="169.4" fill="none" stroke="#1a1a1a" stroke-width="1.4"/>
<text x="341.19" y="207.2" font-size="9.2" text-anchor="middle">9</text>
<text x="386.17" y="207.2" font-size="9.2" text-anchor="middle">12</text>
<text x="431.15" y="207.2" font-size="9.2" text-anchor="middle">15</text>
<text x="476.13" y="207.2" font-size="9.2" text-anchor="middle">18</text>
<text x="521.11" y="207.2" font-size="9.2" text-anchor="middle">21</text>
<text x="320.3" y="172.58" font-size="9.3" text-anchor="end">120</text>
<text x="320.3" y="136.28" font-size="9.3" text-anchor="end">150</text>
<text x="320.3" y="99.98" font-size="9.3" text-anchor="end">180</text>
<text x="320.3" y="63.68" font-size="9.3" text-anchor="end">210</text>
<text x="320.3" y="27.38" font-size="9.3" text-anchor="end">240</text>
<text x="431.15" y="226.8" font-size="14.2" text-anchor="middle">Time (s)</text>
<text transform="translate(298.8 109.1) rotate(-90)" font-size="14.3" text-anchor="middle">EPSC (nA)</text>
<line x1="476" y1="35.8" x2="498.6" y2="35.8" stroke="#ecad2c" stroke-width="1.9"/>
<text x="501.2" y="39.1" font-size="9.3" text-anchor="start" >5 s</text>
<line x1="476" y1="47.95" x2="498.6" y2="47.95" stroke="#ca82ec" stroke-width="1.9"/>
<text x="501.2" y="51.25" font-size="9.3" text-anchor="start" >3 s</text>
<line x1="476" y1="60.1" x2="498.6" y2="60.1" stroke="#14b877" stroke-width="1.9"/>
<text x="501.2" y="63.4" font-size="9.3" text-anchor="start" >1.2 s</text>
<line x1="476" y1="72.25" x2="498.6" y2="72.25" stroke="#4c4c4c" stroke-width="1.3"/>
<text x="501.2" y="75.55" font-size="9.3" text-anchor="start" >0.3 s</text>
<text x="280" y="18.1" font-size="17.7" font-family='"Liberation Serif", "Times New Roman", serif'>(b)</text>
<polyline points="62.9,287.12 108.61,287.12 108.64,274.14 110.28,274.14 110.31,287.12 120.87,287.12 120.91,274.14 122.54,274.14 122.58,287.12 273.2,287.12" fill="none" stroke="#10cccc" stroke-width="1.6" stroke-linejoin="round" />
<polyline points="62.9,406.76 108.82,400.74 109.75,311.76 109.95,315.89 110.15,319.41 110.34,322.43 110.54,325.02 110.74,327.24 110.94,329.16 111.14,330.82 111.33,332.26 111.53,333.51 111.73,334.6 111.93,335.56 112.13,336.41 112.32,337.16 112.52,337.83 112.72,338.42 112.92,338.96 113.12,339.44 113.31,339.88 113.51,340.28 113.71,340.65 113.91,341 114.11,341.31 114.3,341.61 114.5,341.89 114.7,342.15 114.9,342.4 115.1,342.64 115.29,342.86 115.49,343.07 115.69,343.28 115.89,343.48 116.09,343.67 116.28,343.85 116.48,344.03 116.68,344.21 116.88,344.37 117.08,344.54 117.28,344.7 117.47,344.85 117.67,345 117.87,345.15 118.07,345.29 118.27,345.43 118.46,345.57 118.66,345.71 118.86,345.84 119.06,345.97 119.26,346.09 119.45,346.21 119.65,346.34 119.85,346.45 120.05,346.57 120.25,346.68 120.44,346.79 120.64,346.9 120.84,347.01 121.04,347.11 121.24,347.22 121.43,347.32 122.6,295.96 122.77,298.63 122.93,301.05 123.09,303.24 123.26,305.23 123.42,307.04 123.59,308.68 123.75,310.18 123.91,311.54 124.08,312.79 124.24,313.93 124.41,314.97 124.57,315.92 124.73,316.8 124.9,317.6 125.06,318.34 125.23,319.02 125.39,319.65 125.55,320.24 125.72,320.78 125.88,321.28 126.05,321.75 126.21,322.19 126.37,322.6 126.54,322.98 126.7,323.34 126.87,323.67 127.03,323.99 127.19,324.29 127.36,324.58 127.52,324.85 127.69,325.11 127.85,325.35 128.02,325.59 128.18,325.81 128.34,326.02 128.51,326.23 128.67,326.43 128.84,326.62 129,326.8 129.16,326.98 129.33,327.15 129.49,327.31 129.66,327.48 129.82,327.63 129.98,327.78 130.15,327.93 130.31,328.07 130.48,328.21 130.64,328.35 130.8,328.48 130.97,328.61 131.13,328.74 131.3,328.87 131.46,328.99 131.62,329.11 131.79,329.22 131.95,329.34 132.12,329.45 132.28,329.56 132.44,329.67 132.61,329.78 132.77,329.88 132.94,329.98 133.1,330.08 133.26,330.18 133.43,330.28 133.59,330.37 133.76,330.47 133.92,330.56 134.08,330.65 134.25,330.74 134.41,330.83 134.58,330.92 134.74,331 134.9,331.09 135.07,331.17 135.23,331.25 135.4,331.33 135.56,331.41 135.72,331.49 135.89,331.56 136.05,331.64 136.22,331.71 136.38,331.79 136.55,331.86 136.71,331.93 136.87,332 137.04,332.07 137.2,332.14 137.37,332.2 137.53,332.27 137.69,332.34 137.86,332.4 138.02,332.46 138.19,332.53 138.35,332.59 138.51,332.65 138.68,332.71 138.84,332.77 139.97,333.15 141.1,333.5 142.23,333.82 143.36,334.11 144.49,334.38 145.62,334.62 146.75,334.84 147.87,335.05 149,335.24 150.13,335.42 151.26,335.58 152.39,335.73 153.52,335.87 154.65,336 155.78,336.12 156.91,336.23 158.04,336.34 159.16,336.44 160.29,336.53 161.42,336.62 162.55,336.7 163.68,336.78 164.81,336.85 165.94,336.92 167.07,336.99 168.2,337.05 169.33,337.11 170.46,337.17 171.58,337.22 172.71,337.27 173.84,337.32 174.97,337.37 176.1,337.41 177.23,337.46 178.36,337.5 179.49,337.54 180.62,337.58 181.75,337.61 182.88,337.65 184,337.68 185.13,337.72 186.26,337.75 187.39,337.78 188.52,337.81 189.65,337.83 190.78,337.86 191.91,337.89 193.04,337.91 194.17,337.94 195.29,337.96 196.42,337.98 197.55,338.01 198.68,338.03 199.81,338.05 200.94,338.07 202.07,338.09 203.2,338.11 204.33,338.12 205.46,338.14 206.59,338.16 207.71,338.17 208.84,338.19 209.97,338.2 211.1,338.22 212.23,338.23 213.36,338.25 214.49,338.26 215.62,338.27 216.75,338.29 217.88,338.3 219.01,338.31 220.13,338.32 221.26,338.33 222.39,338.34 223.52,338.35 224.65,338.36 225.78,338.37 226.91,338.38 228.04,338.39 229.17,338.4 230.3,338.41 231.42,338.42 232.55,338.42 233.68,338.43 234.81,338.44 235.94,338.45 237.07,338.45 238.2,338.46 239.33,338.47 240.46,338.47 241.59,338.48 242.72,338.48 243.84,338.49 244.97,338.5 246.1,338.5 247.23,338.51 248.36,338.51 249.49,338.52 250.62,338.52 251.75,338.53 252.88,338.53 254.01,338.53 255.14,338.54 256.26,338.54 257.39,338.55 258.52,338.55 259.65,338.55 260.78,338.56 261.91,338.56 263.04,338.56 264.17,338.57 265.3,338.57 266.43,338.57 267.55,338.58 268.68,338.58 269.81,338.58 270.94,338.58 272.07,338.59 273.2,338.59" fill="none" stroke="#ff5555" stroke-width="1.55" stroke-linejoin="round" />
<g stroke="#444" stroke-width="0.8" fill="none">
<line x1="99.4" y1="311.7" x2="110" y2="311.7" stroke="#777" stroke-width="1"/>
<line x1="122.6" y1="295.9" x2="131.8" y2="295.9" stroke="#777" stroke-width="1"/>
<line x1="108.3" y1="400.8" x2="139.4" y2="400.8" stroke="#aaa"/>
<line x1="102.7" y1="313" x2="102.7" y2="399.5" stroke="#aaa" stroke-width="0.8"/>
<line x1="127.7" y1="297" x2="127.7" y2="399.5" stroke="#aaa" stroke-width="0.8"/>
<line x1="126.5" y1="270" x2="135" y2="266" stroke="#777" stroke-width="0.7"/>
</g>
<g fill="#111">
<path d="M102.7 311.9l-1.4 4.2h2.8z"/>
<path d="M102.7 400.6l-1.4 -4.2h2.8z"/>
<path d="M127.7 296.1l-1.4 4.2h2.8z"/>
<path d="M127.7 400.6l-1.4 -4.2h2.8z"/>
<path d="M137.6 264.8l-4.4 0.5l1.3 2.7z"/>
</g>
<rect x="97" y="351.5" width="10.5" height="11" fill="#fff"/>
<rect x="123.2" y="343.5" width="11" height="10.5" fill="#fff"/>
<text x="97" y="360.6" font-size="10" text-anchor="start" >A<tspan font-size="6.5" dy="2">1</tspan></text>
<text x="123.4" y="352.4" font-size="9" text-anchor="start" >A<tspan font-size="6.2" dy="1.2">2</tspan></text>
<text x="141.6" y="265.8" font-size="9.6" text-anchor="start" >Light pulse</text>
<path d="M74.58 418.8v3M109.63 418.8v3M144.68 418.8v3M179.73 418.8v3M214.78 418.8v3M249.83 418.8v3M92.11 418.8v1.7M127.16 418.8v1.7M162.21 418.8v1.7M197.26 418.8v1.7M232.31 418.8v1.7M267.36 418.8v1.7M62.9 399.99h-3M62.9 362.37h-3M62.9 324.74h-3M62.9 287.12h-3M62.9 249.5h-3M62.9 418.8h-1.7M62.9 381.18h-1.7M62.9 343.56h-1.7M62.9 305.93h-1.7M62.9 268.31h-1.7" stroke="#1a1a1a" stroke-width="1.4" fill="none"/>
<rect x="62.9" y="249.5" width="210.3" height="169.3" fill="none" stroke="#1a1a1a" stroke-width="1.4"/>
<text x="74.58" y="436.5" font-size="13" text-anchor="middle">6</text>
<text x="109.63" y="436.5" font-size="13" text-anchor="middle">9</text>
<text x="144.68" y="436.5" font-size="13" text-anchor="middle">12</text>
<text x="179.73" y="436.5" font-size="13" text-anchor="middle">15</text>
<text x="214.78" y="436.5" font-size="13" text-anchor="middle">18</text>
<text x="249.83" y="436.5" font-size="13" text-anchor="middle">21</text>
<text x="57.3" y="403" font-size="9.4" text-anchor="end">100</text>
<text x="57.3" y="365.37" font-size="9.4" text-anchor="end">120</text>
<text x="57.3" y="327.75" font-size="9.4" text-anchor="end">140</text>
<text x="57.3" y="290.13" font-size="9.4" text-anchor="end">160</text>
<text x="57.3" y="252.51" font-size="9.4" text-anchor="end">180</text>
<text x="168.05" y="454.3" font-size="14.2" text-anchor="middle">Time (s)</text>
<text transform="translate(34.1 334.15) rotate(-90)" font-size="14.3" text-anchor="middle">EPSC (nA)</text>
<text x="4.3" y="240.1" font-size="17.7" font-family='"Liberation Serif", "Times New Roman", serif'>(c)</text>
<defs><radialGradient id="ball" cx="0.35" cy="0.3" r="0.75"><stop offset="0" stop-color="#8fd0ff"/><stop offset="0.35" stop-color="#1e80f0"/><stop offset="1" stop-color="#0a50c8"/></radialGradient></defs>
<circle cx="341.91" cy="262.72" r="2.1" fill="url(#ball)"/>
<circle cx="345.42" cy="294.27" r="2.1" fill="url(#ball)"/>
<circle cx="350.1" cy="330.32" r="2.1" fill="url(#ball)"/>
<circle cx="373.5" cy="373.13" r="2.1" fill="url(#ball)"/>
<circle cx="396.9" cy="393.41" r="2.1" fill="url(#ball)"/>
<circle cx="455.4" cy="400.17" r="2.1" fill="url(#ball)"/>
<circle cx="513.9" cy="402.43" r="2.1" fill="url(#ball)"/>
<polyline points="341.91,262.97 342.77,272.87 343.64,281.82 344.5,289.91 345.37,297.24 346.23,303.89 347.1,309.93 347.96,315.43 348.82,320.44 349.69,325.01 350.55,329.2 351.42,333.03 352.28,336.55 353.15,339.8 354.01,342.78 354.87,345.55 355.74,348.1 356.6,350.48 357.47,352.68 358.33,354.74 359.2,356.66 360.06,358.46 360.92,360.14 361.79,361.72 362.65,363.22 363.52,364.62 364.38,365.95 365.25,367.21 366.11,368.4 366.97,369.54 367.84,370.62 368.7,371.65 369.57,372.63 370.43,373.57 371.3,374.46 372.16,375.33 373.02,376.15 373.89,376.95 374.75,377.71 375.62,378.44 376.48,379.15 377.35,379.83 378.21,380.49 379.07,381.12 379.94,381.74 380.8,382.33 381.67,382.9 382.53,383.46 383.4,384 384.26,384.52 385.12,385.02 385.99,385.51 386.85,385.99 387.72,386.45 388.58,386.89 389.44,387.33 390.31,387.75 391.17,388.16 392.04,388.55 392.9,388.94 393.77,389.31 394.63,389.68 395.49,390.03 396.36,390.38 397.22,390.71 398.09,391.04 398.95,391.35 399.82,391.66 400.68,391.96 401.54,392.25 402.41,392.54 403.27,392.81 404.14,393.08 405,393.34 405.87,393.59 406.73,393.84 407.59,394.08 408.46,394.31 409.32,394.54 410.19,394.76 411.05,394.98 411.92,395.19 412.78,395.39 413.64,395.59 414.51,395.79 415.37,395.97 416.24,396.16 417.1,396.34 417.97,396.51 418.83,396.68 419.69,396.84 420.56,397 421.42,397.16 422.29,397.31 423.15,397.46 424.02,397.6 424.88,397.74 425.74,397.88 426.61,398.01 427.47,398.14 428.34,398.26 429.2,398.39 430.07,398.51 430.93,398.62 431.79,398.73 432.66,398.84 433.52,398.95 434.39,399.06 435.25,399.16 436.12,399.26 436.98,399.35 437.84,399.44 438.71,399.54 439.57,399.62 440.44,399.71 441.3,399.79 442.17,399.88 443.03,399.96 443.89,400.03 444.76,400.11 445.62,400.18 446.49,400.25 447.35,400.32 448.22,400.39 449.08,400.46 449.94,400.52 450.81,400.58 451.67,400.64 452.54,400.7 453.4,400.76 454.27,400.82 455.13,400.87 455.99,400.92 456.86,400.98 457.72,401.03 458.59,401.08 459.45,401.12 460.32,401.17 461.18,401.22 462.04,401.26 462.91,401.3 463.77,401.34 464.64,401.38 465.5,401.42 466.37,401.46 467.23,401.5 468.09,401.54 468.96,401.57 469.82,401.61 470.69,401.64 471.55,401.67 472.41,401.71 473.28,401.74 474.14,401.77 475.01,401.8 475.87,401.82 476.74,401.85 477.6,401.88 478.46,401.91 479.33,401.93 480.19,401.96 481.06,401.98 481.92,402.01 482.79,402.03 483.65,402.05 484.51,402.07 485.38,402.09 486.24,402.11 487.11,402.13 487.97,402.15 488.84,402.17 489.7,402.19 490.56,402.21 491.43,402.23 492.29,402.25 493.16,402.26 494.02,402.28 494.89,402.29 495.75,402.31 496.61,402.32 497.48,402.34 498.34,402.35 499.21,402.37 500.07,402.38 500.94,402.39 501.8,402.41 502.66,402.42 503.53,402.43 504.39,402.44 505.26,402.46 506.12,402.47 506.99,402.48 507.85,402.49 508.71,402.5 509.58,402.51 510.44,402.52 511.31,402.53 512.17,402.54 513.04,402.55 513.9,402.55" fill="none" stroke="#ff8a2a" stroke-width="1.25" stroke-linejoin="round" />
<path d="M338.4 418.2v3M385.2 418.2v3M432 418.2v3M478.8 418.2v3M525.6 418.2v3M361.8 418.2v1.7M408.6 418.2v1.7M455.4 418.2v1.7M502.2 418.2v1.7M326.7 406.93h-3M326.7 361.87h-3M326.7 316.8h-3M326.7 271.73h-3M326.7 384.4h-1.7M326.7 339.33h-1.7M326.7 294.27h-1.7M326.7 249.2h-1.7" stroke="#1a1a1a" stroke-width="1.4" fill="none"/>
<rect x="326.7" y="249.2" width="210.6" height="169" fill="none" stroke="#1a1a1a" stroke-width="1.4"/>
<text x="338.4" y="432.6" font-size="10.5" text-anchor="middle">0</text>
<text x="385.2" y="432.6" font-size="10.5" text-anchor="middle">4</text>
<text x="432" y="432.6" font-size="10.5" text-anchor="middle">8</text>
<text x="478.8" y="432.6" font-size="10.5" text-anchor="middle">12</text>
<text x="525.6" y="432.6" font-size="10.5" text-anchor="middle">16</text>
<text x="321.1" y="410.29" font-size="10.5" text-anchor="end">2</text>
<text x="321.1" y="365.23" font-size="10.5" text-anchor="end">4</text>
<text x="321.1" y="320.16" font-size="10.5" text-anchor="end">6</text>
<text x="321.1" y="275.09" font-size="10.5" text-anchor="end">8</text>
<text x="432" y="453.6" font-size="14.2" text-anchor="middle">Interval (s)</text>
<text transform="translate(311 333.7) rotate(-90)" font-size="14.3" text-anchor="middle">Plasticity (%)</text>
<circle cx="415.9" cy="283.1" r="1.9" fill="url(#ball)"/>
<text x="432.3" y="287.3" font-size="11" text-anchor="start" >Measured</text>
<line x1="403.5" y1="297.3" x2="428.6" y2="297.3" stroke="#ff8a2a" stroke-width="1.25"/>
<text x="432.3" y="301.3" font-size="11" text-anchor="start" >Fitting</text>
<text x="280" y="240.3" font-size="17.7" font-family='"Liberation Serif", "Times New Roman", serif'>(d)</text>
<polyline points="64.21,628.37 80.81,626.34 81.91,593.51 84.43,593.96 86.3,577.87 87.18,583.23 89.04,570.19 89.92,575.99 91.79,564.43 92.67,570.66 94.53,559.83 95.41,566.51 97.28,556 98.16,563.13 100.02,552.69 100.9,560.27 102.77,549.75 103.65,557.78 105.51,547.09 106.39,555.58 108.26,544.65 109.14,553.18 111,542.39 111.88,550.95 113.75,540.28 114.63,548.88 116.49,538.29 117.37,546.92 119.24,536.4 120.12,545.08 121.98,534.62 122.86,543.33 124.73,532.91 125.61,541.66 127.47,531.29 128.35,540.07 130.22,529.72 131.1,538.54 132.96,528.22 133.84,537.08 135.71,526.78 136.59,535.67 138.45,525.39 139.33,534.31 141.2,524.04 142.08,533 143.94,522.73 144.82,531.73 146.69,521.47 147.57,530.5 149.43,520.24 150.31,529.31 152.18,519.05 153.06,528.16 154.92,517.89 155.8,527.03 157.67,516.76 158.55,525.94 160.41,515.66 161.29,524.87 163.16,514.58 164.04,523.83 165.9,513.53 166.78,522.82 168.65,512.51 169.53,521.83 171.39,511.51 172.27,520.87 174.14,510.52 175.02,519.92 176.88,509.56 177.76,519 179.63,508.62 180.51,518.09 182.37,507.7 183.25,517.2 185.12,506.79 186,516.34 187.86,505.91 188.74,515.48 190.61,505.03 191.49,514.65 193.35,504.18 194.23,513.83 196.1,503.34 196.98,513.02 198.84,502.51 199.72,512.23 201.59,501.69 202.47,511.45 204.33,500.89 205.21,510.69 207.08,500.11 207.96,509.93 209.82,499.33 210.7,509.19 212.57,498.56 213.45,508.47 215.31,497.81 216.19,507.75 218.06,497.07 218.15,499.15 218.25,500.86 218.34,502.28 218.43,503.46 218.53,504.45 218.62,505.28 218.71,505.99 218.81,506.59 218.9,507.1 219,507.55 219.09,507.94 219.18,508.28 219.28,508.59 219.37,508.86 219.46,509.11 219.56,509.33 219.65,509.54 219.75,509.73 219.84,509.91 219.93,510.08 220.03,510.24 220.12,510.39 220.22,510.54 220.31,510.67 220.4,510.81 220.5,510.94 220.59,511.06 220.68,511.18 220.78,511.3 220.87,511.41 220.97,511.52 221.06,511.63 221.15,511.74 221.25,511.84 221.34,511.94 221.43,512.04 221.53,512.14 221.62,512.24 221.72,512.33 221.81,512.42 221.9,512.51 222,512.6 222.09,512.68 222.19,512.77 222.28,512.85 222.37,512.93 222.47,513.01 222.56,513.09 222.65,513.17 222.75,513.25 222.84,513.32 222.94,513.4 223.03,513.47 223.12,513.54 223.22,513.61 223.31,513.68 223.4,513.75 223.5,513.81 223.59,513.88 224.22,514.3 224.85,514.68 225.48,515.03 226.11,515.35 226.74,515.64 227.37,515.92 228.01,516.18 228.64,516.43 229.27,516.66 229.9,516.89 230.53,517.1 231.16,517.3 231.79,517.5 232.42,517.69 233.05,517.87 233.68,518.05 234.31,518.22 234.94,518.39 235.57,518.56 236.2,518.72 236.83,518.87 237.46,519.02 238.09,519.17 238.72,519.32 239.35,519.46 239.98,519.6 240.62,519.74 241.25,519.87 241.88,520 242.51,520.13 243.14,520.26 243.77,520.38 244.4,520.5 245.03,520.62 245.66,520.74 246.29,520.85 246.92,520.96 247.55,521.07 248.18,521.18 248.81,521.29 249.44,521.39 250.07,521.49 250.7,521.59 251.33,521.69 251.96,521.79 252.59,521.88 253.22,521.97 253.86,522.07 254.49,522.15 255.12,522.24 255.75,522.33 256.38,522.41 257.01,522.49 257.64,522.58 258.27,522.66 258.9,522.73 259.53,522.81 260.16,522.88 260.79,522.96 261.42,523.03 262.05,523.1 262.68,523.17 263.31,523.24 263.94,523.31 264.57,523.37 265.2,523.44 265.83,523.5 266.46,523.56 267.1,523.62 267.73,523.68 268.36,523.74 268.99,523.8 269.62,523.86 270.25,523.91 270.88,523.97 271.51,524.02 272.14,524.07 272.77,524.12 273.4,524.17" fill="none" stroke="#ca82ec" stroke-width="1.5" stroke-linejoin="round" />
<polyline points="117.34,628.45 135.93,626.94 137.03,593.48 139.54,595.79 141.41,577.36 142.28,585.16 144.14,569.4 145.02,578.12 146.88,563.4 147.76,573.06 149.62,558.6 150.49,569.22 152.36,554.6 153.23,565.29 155.09,551.13 155.97,561.9 157.83,548.05 158.71,558.9 160.57,545.27 161.44,556.19 163.31,542.71 164.18,553.7 166.04,540.34 166.92,551.41 168.78,538.12 169.66,549.26 171.52,536.03 172.39,547.25 174.26,534.05 175.13,545.35 176.99,532.17 177.87,543.54 179.73,530.38 180.61,541.83 182.47,528.67 183.35,540.19 185.21,527.03 186.08,538.62 187.94,525.45 188.82,537.12 190.68,523.93 191.56,535.67 193.42,522.46 194.3,534.28 196.16,521.04 197.03,532.94 198.89,519.67 199.77,531.64 201.63,518.33 202.51,530.38 204.37,517.04 205.25,529.16 207.11,515.78 207.98,527.98 209.85,514.56 210.72,526.83 212.58,513.37 213.46,525.72 215.32,512.21 216.2,524.63 218.06,511.07 218.15,513.15 218.25,514.86 218.34,516.28 218.43,517.46 218.53,518.45 218.62,519.28 218.71,519.99 218.81,520.58 218.9,521.1 219,521.54 219.09,521.93 219.18,522.27 219.28,522.58 219.37,522.85 219.46,523.1 219.56,523.32 219.65,523.53 219.75,523.72 219.84,523.9 219.93,524.06 220.03,524.22 220.12,524.37 220.22,524.52 220.31,524.65 220.4,524.79 220.5,524.91 220.59,525.04 220.68,525.16 220.78,525.27 220.87,525.39 220.97,525.5 221.06,525.6 221.15,525.71 221.25,525.81 221.34,525.91 221.43,526.01 221.53,526.11 221.62,526.2 221.72,526.29 221.81,526.38 221.9,526.47 222,526.56 222.09,526.65 222.19,526.73 222.28,526.81 222.37,526.89 222.47,526.97 222.56,527.05 222.65,527.13 222.75,527.2 222.84,527.28 222.94,527.35 223.03,527.42 223.12,527.49 223.22,527.56 223.31,527.63 223.4,527.7 223.5,527.76 223.59,527.83 224.22,528.24 224.85,528.61 225.48,528.96 226.11,529.27 226.74,529.56 227.37,529.84 228.01,530.09 228.64,530.33 229.27,530.56 229.9,530.78 230.53,530.99 231.16,531.18 231.79,531.38 232.42,531.56 233.05,531.74 233.68,531.92 234.31,532.08 234.94,532.25 235.57,532.41 236.2,532.56 236.83,532.72 237.46,532.86 238.09,533.01 238.72,533.15 239.35,533.29 239.98,533.43 240.62,533.56 241.25,533.69 241.88,533.82 242.51,533.94 243.14,534.06 243.77,534.18 244.4,534.3 245.03,534.42 245.66,534.53 246.29,534.64 246.92,534.75 247.55,534.86 248.18,534.96 248.81,535.07 249.44,535.17 250.07,535.27 250.7,535.36 251.33,535.46 251.96,535.55 252.59,535.65 253.22,535.74 253.86,535.82 254.49,535.91 255.12,536 255.75,536.08 256.38,536.16 257.01,536.24 257.64,536.32 258.27,536.4 258.9,536.47 259.53,536.55 260.16,536.62 260.79,536.69 261.42,536.76 262.05,536.83 262.68,536.9 263.31,536.97 263.94,537.03 264.57,537.1 265.2,537.16 265.83,537.22 266.46,537.28 267.1,537.34 267.73,537.4 268.36,537.46 268.99,537.51 269.62,537.57 270.25,537.62 270.88,537.67 271.51,537.73 272.14,537.78 272.77,537.83 273.4,537.88" fill="none" stroke="#1a7cf0" stroke-width="1.5" stroke-linejoin="round" />
<polyline points="140.03,631.99 163.82,629.2 164.91,595.74 167.4,600 169.25,579.27 170.11,589.69 171.96,571.02 172.83,583.05 174.67,564.76 175.54,576.92 177.38,559.75 178.25,572.03 180.09,555.54 180.96,567.96 182.8,551.9 183.67,564.44 185.52,548.65 186.38,561.32 188.23,545.71 189.1,558.51 190.94,543 191.81,555.93 193.65,540.49 194.52,553.54 196.36,538.13 197.23,551.32 199.08,535.92 199.94,549.23 201.79,533.82 202.66,547.26 204.5,531.82 205.37,545.39 207.21,529.92 208.08,543.61 209.92,528.1 210.79,541.92 212.63,526.35 213.5,540.3 215.35,524.67 216.21,538.74 218.06,523.04 218.15,525.11 218.25,526.82 218.34,528.24 218.43,529.41 218.53,530.39 218.62,531.22 218.71,531.92 218.81,532.51 218.9,533.02 219,533.46 219.09,533.84 219.18,534.18 219.28,534.48 219.37,534.74 219.46,534.99 219.56,535.2 219.65,535.41 219.75,535.59 219.84,535.76 219.93,535.93 220.03,536.08 220.12,536.23 220.22,536.36 220.31,536.5 220.4,536.62 220.5,536.75 220.59,536.87 220.68,536.98 220.78,537.09 220.87,537.2 220.97,537.3 221.06,537.41 221.15,537.51 221.25,537.6 221.34,537.7 221.43,537.79 221.53,537.88 221.62,537.97 221.72,538.06 221.81,538.15 221.9,538.23 222,538.31 222.09,538.39 222.19,538.47 222.28,538.55 222.37,538.63 222.47,538.7 222.56,538.77 222.65,538.85 222.75,538.92 222.84,538.99 222.94,539.05 223.03,539.12 223.12,539.19 223.22,539.25 223.31,539.31 223.4,539.38 223.5,539.44 223.59,539.5 224.22,539.88 224.85,540.22 225.48,540.54 226.11,540.82 226.74,541.09 227.37,541.33 228.01,541.56 228.64,541.77 229.27,541.97 229.9,542.16 230.53,542.35 231.16,542.52 231.79,542.69 232.42,542.85 233.05,543 233.68,543.15 234.31,543.3 234.94,543.44 235.57,543.58 236.2,543.71 236.83,543.84 237.46,543.97 238.09,544.1 238.72,544.22 239.35,544.34 239.98,544.45 240.62,544.57 241.25,544.68 241.88,544.79 242.51,544.9 243.14,545 243.77,545.11 244.4,545.21 245.03,545.31 245.66,545.4 246.29,545.5 246.92,545.59 247.55,545.68 248.18,545.77 248.81,545.86 249.44,545.95 250.07,546.03 250.7,546.12 251.33,546.2 251.96,546.28 252.59,546.36 253.22,546.43 253.86,546.51 254.49,546.58 255.12,546.66 255.75,546.73 256.38,546.8 257.01,546.87 257.64,546.93 258.27,547 258.9,547.07 259.53,547.13 260.16,547.19 260.79,547.25 261.42,547.31 262.05,547.37 262.68,547.43 263.31,547.49 263.94,547.54 264.57,547.6 265.2,547.65 265.83,547.7 266.46,547.76 267.1,547.81 267.73,547.86 268.36,547.91 268.99,547.95 269.62,548 270.25,548.05 270.88,548.09 271.51,548.14 272.14,548.18 272.77,548.22 273.4,548.27" fill="none" stroke="#ff4040" stroke-width="1.5" stroke-linejoin="round" />
<polyline points="160.83,632.36 190.72,628.07 191.81,597.17 194.33,607.08 196.19,587.72 197.06,597.84 198.92,580.9 199.8,591.23 201.65,575.38 202.53,585.92 204.39,570.65 205.26,581.4 207.12,566.47 208,577.43 209.86,562.71 210.73,573.88 212.59,559.26 213.46,570.64 215.32,556.07 216.2,567.66 218.06,553.08 218.15,554.84 218.25,556.29 218.34,557.5 218.43,558.5 218.53,559.34 218.62,560.04 218.71,560.64 218.81,561.15 218.9,561.58 219,561.96 219.09,562.29 219.18,562.58 219.28,562.84 219.37,563.07 219.46,563.28 219.56,563.47 219.65,563.64 219.75,563.8 219.84,563.96 219.93,564.1 220.03,564.23 220.12,564.36 220.22,564.48 220.31,564.6 220.4,564.71 220.5,564.82 220.59,564.92 220.68,565.02 220.78,565.12 220.87,565.22 220.97,565.31 221.06,565.4 221.15,565.49 221.25,565.57 221.34,565.66 221.43,565.74 221.53,565.82 221.62,565.9 221.72,565.98 221.81,566.05 221.9,566.13 222,566.2 222.09,566.27 222.19,566.34 222.28,566.41 222.37,566.48 222.47,566.54 222.56,566.61 222.65,566.67 222.75,566.73 222.84,566.8 222.94,566.86 223.03,566.92 223.12,566.97 223.22,567.03 223.31,567.09 223.4,567.14 223.5,567.2 223.59,567.25 224.22,567.59 224.85,567.9 225.48,568.17 226.11,568.43 226.74,568.67 227.37,568.88 228.01,569.09 228.64,569.28 229.27,569.46 229.9,569.63 230.53,569.8 231.16,569.95 231.79,570.1 232.42,570.25 233.05,570.39 233.68,570.52 234.31,570.66 234.94,570.78 235.57,570.91 236.2,571.03 236.83,571.15 237.46,571.26 238.09,571.38 238.72,571.49 239.35,571.59 239.98,571.7 240.62,571.8 241.25,571.9 241.88,572 242.51,572.1 243.14,572.19 243.77,572.29 244.4,572.38 245.03,572.47 245.66,572.56 246.29,572.64 246.92,572.73 247.55,572.81 248.18,572.89 248.81,572.97 249.44,573.05 250.07,573.13 250.7,573.2 251.33,573.27 251.96,573.35 252.59,573.42 253.22,573.49 253.86,573.56 254.49,573.62 255.12,573.69 255.75,573.75 256.38,573.82 257.01,573.88 257.64,573.94 258.27,574 258.9,574.06 259.53,574.12 260.16,574.17 260.79,574.23 261.42,574.28 262.05,574.34 262.68,574.39 263.31,574.44 263.94,574.49 264.57,574.54 265.2,574.59 265.83,574.64 266.46,574.68 267.1,574.73 267.73,574.77 268.36,574.82 268.99,574.86 269.62,574.9 270.25,574.95 270.88,574.99 271.51,575.03 272.14,575.07 272.77,575.11 273.4,575.14" fill="none" stroke="#4c4c4c" stroke-width="1.5" stroke-linejoin="round" />
<path d="M74.17 648.4v3M129.51 648.4v3M184.85 648.4v3M240.19 648.4v3M101.84 648.4v1.7M157.18 648.4v1.7M212.52 648.4v1.7M267.87 648.4v1.7M63.1 629.58h-3M63.1 591.93h-3M63.1 554.29h-3M63.1 516.64h-3M63.1 479h-3M63.1 648.4h-1.7M63.1 610.76h-1.7M63.1 573.11h-1.7M63.1 535.47h-1.7M63.1 497.82h-1.7" stroke="#1a1a1a" stroke-width="1.4" fill="none"/>
<rect x="63.1" y="479" width="210.3" height="169.4" fill="none" stroke="#1a1a1a" stroke-width="1.4"/>
<text x="74.17" y="661.8" font-size="8.9" text-anchor="middle">5</text>
<text x="129.51" y="661.8" font-size="8.9" text-anchor="middle">10</text>
<text x="184.85" y="661.8" font-size="8.9" text-anchor="middle">15</text>
<text x="240.19" y="661.8" font-size="8.9" text-anchor="middle">20</text>
<text x="57.5" y="632.49" font-size="9.1" text-anchor="end">100</text>
<text x="57.5" y="594.85" font-size="9.1" text-anchor="end">150</text>
<text x="57.5" y="557.2" font-size="9.1" text-anchor="end">200</text>
<text x="57.5" y="519.56" font-size="9.1" text-anchor="end">250</text>
<text x="57.5" y="481.91" font-size="9.1" text-anchor="end">300</text>
<text x="168.25" y="681" font-size="14.2" text-anchor="middle">Time (s)</text>
<text transform="translate(34.1 563.7) rotate(-90)" font-size="14.3" text-anchor="middle">EPSC (nA)</text>
<line x1="70.2" y1="484.6" x2="92.8" y2="484.6" stroke="#ca82ec" stroke-width="2.0"/>
<text x="95.6" y="487.9" font-size="9.4" text-anchor="start" >50 pulses</text>
<line x1="70.2" y1="496.9" x2="92.8" y2="496.9" stroke="#1a7cf0" stroke-width="2.0"/>
<text x="95.6" y="500.2" font-size="9.4" text-anchor="start" >30 pulses</text>
<line x1="70.2" y1="509.2" x2="92.8" y2="509.2" stroke="#ff4040" stroke-width="1.5"/>
<text x="95.6" y="512.5" font-size="9.4" text-anchor="start" >20 pulses</text>
<line x1="70.2" y1="521.5" x2="92.8" y2="521.5" stroke="#4c4c4c" stroke-width="1.3"/>
<text x="95.6" y="524.8" font-size="9.4" text-anchor="start" >10 pulses</text>
<text x="4.3" y="479.2" font-size="17.7" font-family='"Liberation Serif", "Times New Roman", serif'>(e)</text>
<polyline points="351.42,633.26 393.46,549.69 435.5,530.03 519.58,500.2" fill="none" stroke="#ff8a2a" stroke-width="1.2" stroke-linejoin="round" />
<circle cx="351.42" cy="633.26" r="2.1" fill="url(#ball)"/>
<circle cx="393.46" cy="549.69" r="2.1" fill="url(#ball)"/>
<circle cx="435.5" cy="530.03" r="2.1" fill="url(#ball)"/>
<circle cx="519.58" cy="500.2" r="2.1" fill="url(#ball)"/>
<path d="M351.42 645.8v3M393.46 645.8v3M435.5 645.8v3M477.54 645.8v3M519.58 645.8v3M330.4 645.8v1.7M372.44 645.8v1.7M414.48 645.8v1.7M456.52 645.8v1.7M498.56 645.8v1.7M540.6 645.8v1.7M330.4 628.85h-3M330.4 594.95h-3M330.4 561.05h-3M330.4 527.15h-3M330.4 493.25h-3M330.4 645.8h-1.7M330.4 611.9h-1.7M330.4 578h-1.7M330.4 544.1h-1.7M330.4 510.2h-1.7M330.4 476.3h-1.7" stroke="#1a1a1a" stroke-width="1.4" fill="none"/>
<rect x="330.4" y="476.3" width="210.2" height="169.5" fill="none" stroke="#1a1a1a" stroke-width="1.4"/>
<text x="351.42" y="659.6" font-size="10.5" text-anchor="middle">10</text>
<text x="393.46" y="659.6" font-size="10.5" text-anchor="middle">20</text>
<text x="435.5" y="659.6" font-size="10.5" text-anchor="middle">30</text>
<text x="477.54" y="659.6" font-size="10.5" text-anchor="middle">40</text>
<text x="519.58" y="659.6" font-size="10.5" text-anchor="middle">50</text>
<text x="324" y="632.21" font-size="10.5" text-anchor="end">1.4</text>
<text x="324" y="598.31" font-size="10.5" text-anchor="end">1.5</text>
<text x="324" y="564.41" font-size="10.5" text-anchor="end">1.6</text>
<text x="324" y="530.51" font-size="10.5" text-anchor="end">1.7</text>
<text x="324" y="496.61" font-size="10.5" text-anchor="end">1.8</text>
<text x="435.5" y="681" font-size="14.2" text-anchor="middle">Pulse Number</text>
<text transform="translate(301.3 560) rotate(-90)" font-size="14.3" text-anchor="middle">Gain (A<tspan font-size="9.5" dy="3">n</tspan><tspan dy="-3">/A</tspan><tspan font-size="9.5" dy="3">1</tspan><tspan dy="-3">)</tspan></text>
<text x="280.3" y="479.2" font-size="17.7" font-family='"Liberation Serif", "Times New Roman", serif'>(f)</text>
</svg>
</body>
</html>
